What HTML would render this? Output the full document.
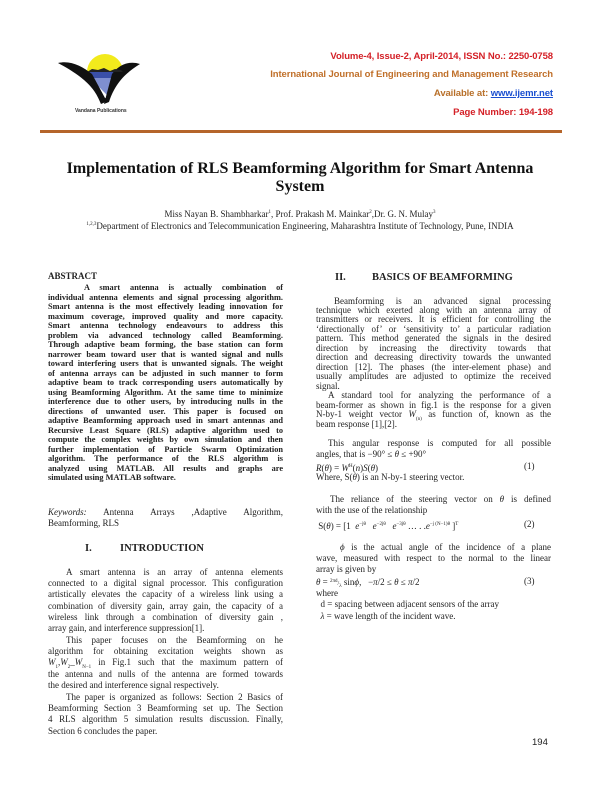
<!DOCTYPE html>
<html><head><meta charset="utf-8">
<style>
body{margin:0;background:#fff;}
#p{position:relative;width:600px;height:801px;overflow:hidden;background:#fff;font-family:"Liberation Serif",serif;color:#222;}
.a{position:absolute;white-space:nowrap;}
.h{position:absolute;right:47px;font-family:"Liberation Sans",sans-serif;font-weight:bold;font-size:9.5px;text-align:right;white-space:nowrap;letter-spacing:-0.1px;}
.col{position:absolute;width:235px;}
.ln{position:absolute;left:0;width:100%;font-size:9px;line-height:11px;height:11px;text-align:justify;text-align-last:justify;white-space:normal;overflow:visible;}
.ln.e{text-align-last:left;}
.b .ln{font-weight:bold;font-size:8.3px;}
.sec{position:absolute;font-weight:bold;font-size:10.5px;white-space:nowrap;}
</style></head><body><div id="p">

<svg class="a" style="left:55px;top:50px" width="90" height="58" viewBox="55 50 90 58">
<path d="M87 72 A18 18 0 0 1 123 72 Z" fill="#f2ea1c"/>
<path d="M87 72 L123 72 L108 96 Z" fill="#3a4fa8"/>
<path d="M90 78 L120 78 L108 96 Z" fill="#7f8fd0"/>
<path d="M58 63 C70 60 82 66 92 74 L105 98 L110 100 L101 104 C96 92 90 80 58 63 Z" fill="#111"/>
<path d="M140 64 C128 60 118 66 112 74 L104 104 L109 102 C113 90 120 76 140 64 Z" fill="#111"/>
<path d="M87 72 L123 72 L121 70 L115 69 L110 71 L104 68 L98 70 L92 69 Z" fill="#222"/>
</svg>
<div class="a" style="left:75px;top:108px;font-family:'Liberation Sans',sans-serif;font-size:5px;font-weight:bold;color:#333">Vandana Publications</div>

<div class="h" style="top:51px;color:#d42027">Volume-4, Issue-2, April-2014, ISSN No.: 2250-0758</div>
<div class="h" style="top:69px;color:#c0702a">International Journal of Engineering and Management Research</div>
<div class="h" style="top:88px;color:#b8702a">Available at: <span style="color:#1a4fd0;text-decoration:underline">www.ijemr.net</span></div>
<div class="h" style="top:107px;color:#d42027">Page Number: 194-198</div>
<div class="a" style="left:40px;top:130px;width:522px;height:3px;background:#b5652a"></div>

<div class="a" style="left:0;width:600px;top:160px;text-align:center;font-weight:bold;font-size:16px;line-height:18px;color:#111">Implementation of RLS Beamforming Algorithm for Smart Antenna<br>System</div>
<div class="a" style="left:0;width:600px;top:209px;text-align:center;font-size:9px">Miss Nayan B. Shambharkar<sup style="font-size:5px">1</sup>, Prof. Prakash M. Mainkar<sup style="font-size:5px">2</sup>,Dr. G. N. Mulay<sup style="font-size:5px">3</sup></div>
<div class="a" style="left:0;width:600px;top:221px;text-align:center;font-size:9px"><sup style="font-size:5px">1,2,3</sup>Department of Electronics and Telecommunication Engineering, Maharashtra Institute of Technology, Pune, INDIA</div>

<div class="col b" style="left:48px;top:0">
<div class="ln e" style="top:271px;font-size:9px">ABSTRACT</div>
<div class="ln" style="top:282px;padding-left:36px;width:199px">A smart antenna is actually combination of</div>
<div class="ln" style="top:291.5px">individual antenna elements and signal processing algorithm.</div>
<div class="ln" style="top:301px">Smart antenna is the most effectively leading innovation for</div>
<div class="ln" style="top:310.5px">maximum coverage, improved quality and more capacity.</div>
<div class="ln" style="top:320px">Smart antenna technology endeavours to address this</div>
<div class="ln" style="top:329.5px">problem via advanced technology called Beamforming.</div>
<div class="ln" style="top:339px">Through adaptive beam forming, the base station can form</div>
<div class="ln" style="top:348.5px">narrower beam toward user that is wanted signal and nulls</div>
<div class="ln" style="top:358px">toward interfering users that is unwanted signals. The weight</div>
<div class="ln" style="top:367.5px">of antenna arrays can be adjusted in such manner to form</div>
<div class="ln" style="top:377px">adaptive beam to track corresponding users automatically by</div>
<div class="ln" style="top:386.5px">using Beamforming Algorithm. At the same time to minimize</div>
<div class="ln" style="top:396px">interference due to other users, by introducing nulls in the</div>
<div class="ln" style="top:405.5px">directions of unwanted user. This paper is focused on</div>
<div class="ln" style="top:415px">adaptive Beamforming approach used in smart antennas and</div>
<div class="ln" style="top:424.5px">Recursive Least Square (RLS) adaptive algorithm used to</div>
<div class="ln" style="top:434px">compute the complex weights by own simulation and then</div>
<div class="ln" style="top:443.5px">further implementation of Particle Swarm Optimization</div>
<div class="ln" style="top:453px">algorithm. The performance of the RLS algorithm is</div>
<div class="ln" style="top:462.5px">analyzed using MATLAB. All results and graphs are</div>
<div class="ln e" style="top:472px">simulated using MATLAB software.</div>
</div>
<div class="col" style="left:48px;top:0">
<div class="ln" style="top:507px"><i>Keywords:</i> Antenna Arrays ,Adaptive Algorithm,</div>
<div class="ln e" style="top:518px">Beamforming, RLS</div>
<div class="sec" style="left:37px;top:543px">I.</div>
<div class="sec" style="left:72px;top:543px">INTRODUCTION</div>
<div class="ln" style="top:566.5px;padding-left:18px;width:217px">A smart antenna is an array of antenna elements</div>
<div class="ln" style="top:577.9px">connected to a digital signal processor. This configuration</div>
<div class="ln" style="top:589.2px">artistically elevates the capacity of a wireless link using a</div>
<div class="ln" style="top:600.6px">combination of diversity gain, array gain, the capacity of a</div>
<div class="ln" style="top:611.9px">wireless link through a combination of diversity gain ,</div>
<div class="ln e" style="top:623.3px">array gain, and interference suppression[1].</div>
<div class="ln" style="top:634.7px;padding-left:18px;width:217px">This paper focuses on the Beamforming on he</div>
<div class="ln" style="top:646px">algorithm for obtaining excitation weights shown as</div>
<div class="ln" style="top:657.4px"><i>W</i><sub style="font-size:5px">1</sub>,<i>W</i><sub style="font-size:5px">2</sub>_<i>W</i><sub style="font-size:5px">N−1</sub> in Fig.1 such that the maximum pattern of</div>
<div class="ln" style="top:668.7px">the antenna and nulls of the antenna are formed towards</div>
<div class="ln e" style="top:680.1px">the desired and interference signal respectively.</div>
<div class="ln" style="top:691.5px;padding-left:18px;width:217px">The paper is organized as follows: Section 2 Basics of</div>
<div class="ln" style="top:702.8px">Beamforming Section 3 Beamforming set up. The Section</div>
<div class="ln" style="top:714.2px">4 RLS algorithm 5 simulation results discussion. Finally,</div>
<div class="ln e" style="top:725.5px">Section 6 concludes the paper.</div>
</div>

<div class="col" style="left:316px;top:0">
<div class="sec" style="left:19px;top:272px">II.</div>
<div class="sec" style="left:56px;top:272px">BASICS OF BEAMFORMING</div>
<div class="ln" style="top:295.5px;padding-left:18px;width:217px">Beamforming is an advanced signal processing</div>
<div class="ln" style="top:305px">technique which exerted along with an antenna array of</div>
<div class="ln" style="top:314.4px">transmitters or receivers. It is efficient for controlling the</div>
<div class="ln" style="top:323.9px">‘directionally of’ or ‘sensitivity to’ a particular radiation</div>
<div class="ln" style="top:333.3px">pattern. This method generated the signals in the desired</div>
<div class="ln" style="top:342.8px">direction by increasing the directivity towards that</div>
<div class="ln" style="top:352.3px">direction and decreasing directivity towards the unwanted</div>
<div class="ln" style="top:361.7px">direction [12]. The phases (the inter-element phase) and</div>
<div class="ln" style="top:371.2px">usually amplitudes are adjusted to optimize the received</div>
<div class="ln e" style="top:380.6px">signal.</div>
<div class="ln" style="top:390.1px;padding-left:12px;width:223px">A standard tool for analyzing the performance of a</div>
<div class="ln" style="top:399.6px">beam-former as shown in fig.1 is the response for a given</div>
<div class="ln" style="top:409px">N-by-1 weight vector <i>W</i><sub style="font-size:5px">(n)</sub> as function of, known as the</div>
<div class="ln e" style="top:418.5px">beam response [1],[2].</div>
<div class="ln" style="top:437.5px;padding-left:12px;width:223px">This angular response is computed for all possible</div>
<div class="ln e" style="top:448.5px">angles, that is −90° ≤ <i>θ</i> ≤ +90°</div>
<div class="ln e" style="top:460.5px"><i>R</i>(<i>θ</i>) = <i>W</i><sup style="font-size:5px">H</sup>(<i>n</i>)<i>S</i>(<i>θ</i>)<span style="position:absolute;left:208px">(1)</span></div>
<div class="ln e" style="top:471.5px">Where, S(<i>θ</i>) is an N-by-1 steering vector.</div>
<div class="ln" style="top:493.5px;padding-left:14px;width:221px">The reliance of the steering vector on <i>θ</i> is defined</div>
<div class="ln e" style="top:504.5px">with the use of the relationship</div>
<div class="ln e" style="top:518.5px">&nbsp;S(<i>θ</i>) = [1 &nbsp;<i>e</i><sup style="font-size:5px">−jθ</sup> &nbsp; <i>e</i><sup style="font-size:5px">−2jθ</sup> &nbsp; <i>e</i><sup style="font-size:5px">−3jθ</sup> … . .<i>e</i><sup style="font-size:5px">−j (N−1)θ</sup> ]<sup style="font-size:5px">T</sup><span style="position:absolute;left:208px">(2)</span></div>
<div class="ln" style="top:541.5px;padding-left:24px;width:211px"><i>ϕ</i> is the actual angle of the incidence of a plane</div>
<div class="ln" style="top:552.5px">wave, measured with respect to the normal to the linear</div>
<div class="ln e" style="top:563.5px">array is given by</div>
<div class="ln e" style="top:575.5px"><i>θ</i> = <span style="font-size:6px"><sup>2πd</sup>/<sub>λ</sub></span> sin<i>ϕ</i>, &nbsp;&nbsp;−<i>π</i>/2 ≤ <i>θ</i> ≤ <i>π</i>/2<span style="position:absolute;left:208px">(3)</span></div>
<div class="ln e" style="top:587.5px">where</div>
<div class="ln e" style="top:598.5px">&nbsp;&nbsp;d = spacing between adjacent sensors of the array</div>
<div class="ln e" style="top:610.5px">&nbsp;&nbsp;<i>λ</i> = wave length of the incident wave.</div>
</div>

<div class="a" style="left:532px;top:737px;font-family:'Liberation Sans',sans-serif;font-size:9.5px;color:#222">194</div>
</div></body></html>
